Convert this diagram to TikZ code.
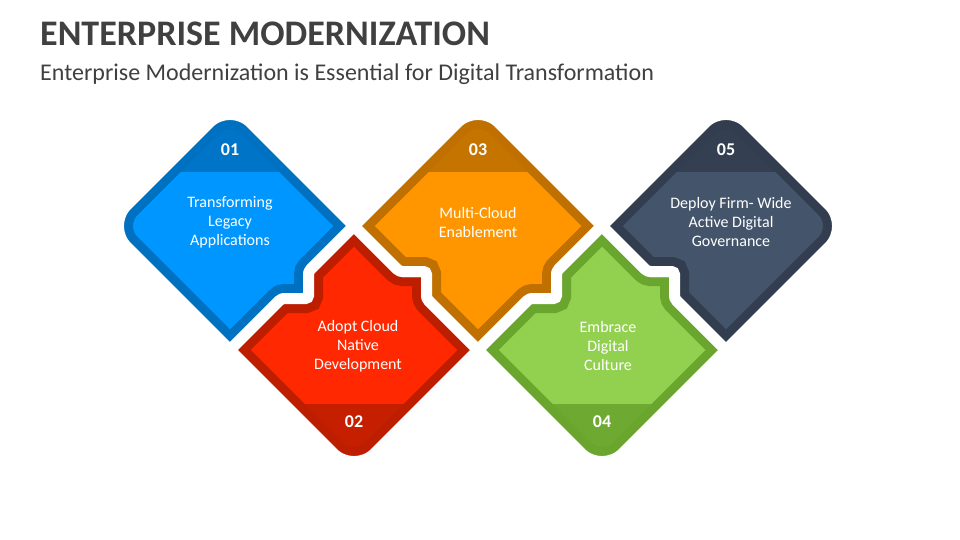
\documentclass[tikz,border=0pt]{standalone}
\usepackage{fontspec}
\setmainfont{Carlito}
\usepackage{tikz}
\definecolor{titlegray}{RGB}{64,64,64}
\definecolor{bluelight}{RGB}{0,150,255}
\definecolor{bluedark}{RGB}{0,112,192}
\definecolor{redlight}{RGB}{255,40,0}
\definecolor{reddark}{RGB}{190,30,0}
\definecolor{orangelight}{RGB}{255,150,0}
\definecolor{orangedark}{RGB}{192,112,0}
\definecolor{greenlight}{RGB}{146,208,80}
\definecolor{greendark}{RGB}{106,166,46}
\definecolor{slatelight}{RGB}{68,84,106}
\definecolor{slatedark}{RGB}{50,62,79}

% one tile: light fill, band, dark rim, white gap
\newcommand{\tile}[4]{%
  \begin{scope}
    \clip #4;
    \fill[#1] (0,0) rectangle (960,540);
    \fill[#2!90!#1] #3;
    \draw[#2, line width=29pt] #4;
  \end{scope}
  \draw[white, line width=11pt] #4;}

\begin{document}
\begin{tikzpicture}[
  x=1pt, y=-1pt,
  num/.style={text=white, font=\bfseries\fontsize{18}{21}\selectfont},
  txt/.style={text=white, align=center, font=\fontsize{16}{19}\selectfont},
]
\useasboundingbox (0,0) rectangle (960,540);

% Heading
\node[anchor=base west, inner sep=0, text=titlegray, font=\bfseries\fontsize{36}{42}\selectfont] (title) at (40,46) {ENTERPRISE MODERNIZATION};
\node[anchor=base west, inner sep=0, text=titlegray, font=\fontsize{24}{28}\selectfont] (subtitle) at (40,81) {Enterprise Modernization is Essential for Digital Transformation};

% Tiles
\tile{bluelight}{bluedark}{(0,0) rectangle (960,172)}
  {(168,288) [rounded corners=30pt] -- (106,226) -- (230,102) [rounded corners=3pt] -- (354,226) -- (308.5,271.5) -- (308.5,298.5) -- (281.5,298.5) -- (230,350) -- cycle}
\tile{redlight}{reddark}{(0,404) rectangle (960,540)}
  {(292,412) [rounded corners=3pt] -- (230,350) -- (281.5,298.5) -- (308.5,298.5) -- (308.5,271.5) -- (354,226) -- (399.5,271.5) -- (426.5,271.5) -- (426.5,298.5) -- (478,350) [rounded corners=30pt] -- (354,474) [rounded corners=3pt] -- cycle}
\tile{orangelight}{orangedark}{(0,0) rectangle (960,172)}
  {(416,164) [rounded corners=30pt] -- (478,102) [rounded corners=3pt] -- (602,226) -- (556.5,271.5) -- (556.5,298.5) -- (529.5,298.5) -- (478,350) -- (426.5,298.5) -- (426.5,271.5) -- (399.5,271.5) -- (354,226) -- cycle}
\tile{greenlight}{greendark}{(0,404) rectangle (960,540)}
  {(540,412) [rounded corners=3pt] -- (478,350) -- (529.5,298.5) -- (556.5,298.5) -- (556.5,271.5) -- (602,226) -- (647.5,271.5) -- (674.5,271.5) -- (674.5,298.5) -- (726,350) [rounded corners=30pt] -- (602,474) [rounded corners=3pt] -- cycle}
\tile{slatelight}{slatedark}{(0,0) rectangle (960,172)}
  {(664,164) [rounded corners=30pt] -- (726,102) -- (850,226) [rounded corners=3pt] -- (726,350) -- (674.5,298.5) -- (674.5,271.5) -- (647.5,271.5) -- (602,226) -- cycle}

% Numbers
\node[num] (n01) at (230,150) {01};
\node[num] (n02) at (354,422) {02};
\node[num] (n03) at (478,150) {03};
\node[num] (n04) at (602,422) {04};
\node[num] (n05) at (726,150) {05};

% Labels
\node[txt] (t01) at (230,222) {Transforming\\Legacy\\Applications};
\node[txt] (t02) at (358,346) {Adopt Cloud\\Native\\Development};
\node[txt] (t03) at (478,223) {Multi-Cloud\\Enablement};
\node[txt] (t04) at (608,346) {Embrace\\Digital\\Culture};
\node[txt] (t05) at (731,222) {Deploy Firm- Wide\\Active Digital\\Governance};

\end{tikzpicture}
\end{document}
